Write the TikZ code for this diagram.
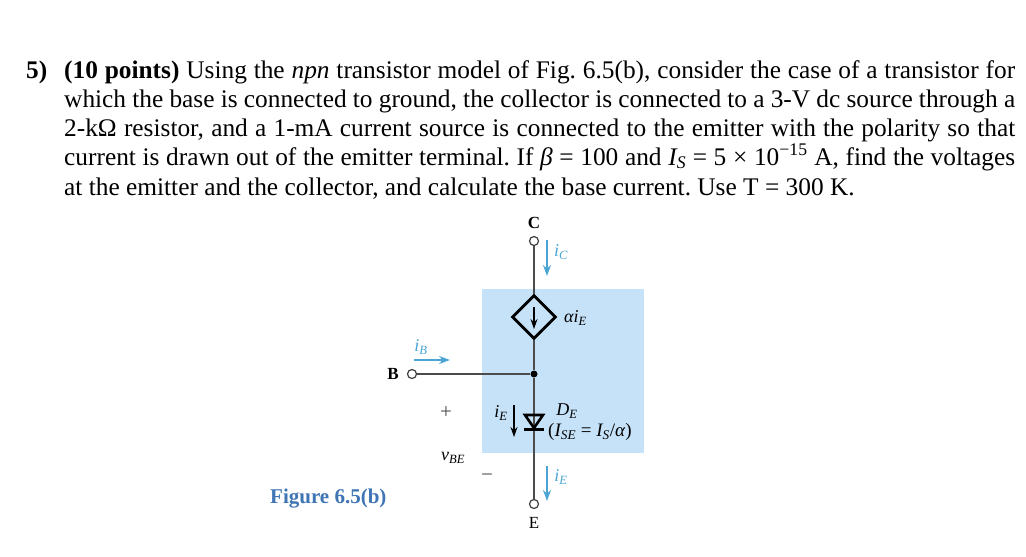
\documentclass[tikz,border=0pt]{standalone}
\usepackage{fontspec}
\setmainfont{Liberation Serif}
\usetikzlibrary{shapes.geometric,arrows.meta}
\definecolor{modelblue}{HTML}{C6E2F8}
\definecolor{currblue}{HTML}{4AA5D5}
\definecolor{figblue}{HTML}{3F74B5}
\newcommand{\lsub}[1]{\textsubscript{#1}}
\newcommand{\qfont}{\fontsize{25.35}{29}\selectfont\frenchspacing}
\newcommand{\qline}[1]{\qfont\makebox[951pt][s]{#1}}
\tikzset{
  qtext/.style={anchor=base west,inner sep=0pt},
  term/.style={circle,draw=black!75,fill=white,line width=1.2pt,inner sep=0pt,minimum size=9pt},
  junct/.style={circle,fill=black,inner sep=0pt,minimum size=7pt},
  wire/.style={draw=black!70,line width=1.7pt},
  curr/.style={-{Stealth[length=11pt,width=8pt]},line width=1.5pt,currblue},
  darr/.style={-{Stealth[length=10pt,width=7pt]},line width=1.6pt,black},
  small/.style={inner sep=0pt,font=\fontsize{17}{19}\selectfont},
  sign/.style={inner sep=0pt,text=black!70,font=\fontsize{21}{23}\selectfont},
  ital/.style={inner sep=0pt,font=\fontsize{18}{20}\selectfont\itshape},
  ilab/.style={ital,text=currblue}
}
\begin{document}
\begin{tikzpicture}[x=1pt,y=-1pt]
  \useasboundingbox (0,0) rectangle (1026,557);
  % question text
  \node[qtext] (num) at (26,78) {\qfont\bfseries 5)};
  \node[qtext] (l1) at (64,78) {\qline{\textbf{(10 points)} Using the \textit{npn} transistor model of Fig. 6.5(b), consider the case of a transistor for}};
  \node[qtext] (l2) at (64,107) {\qline{which the base is connected to ground, the collector is connected to a 3-V dc source through a}};
  \node[qtext] (l3) at (64,136) {\qline{2-kΩ resistor, and a 1-mA current source is connected to the emitter with the polarity so that}};
  \node[qtext] (l4) at (64,165) {\qline{current is drawn out of the emitter terminal. If \textit{β} = 100 and \textit{I\lsub{S}} = 5 × 10\textsuperscript{−15} A, find the voltages}};
  \node[qtext] (l5) at (64,195) {\qfont at the emitter and the collector, and calculate the base current. Use T = 300 K.};
  % shaded box
  \fill[modelblue] (482,289) rectangle (644,453);
  % circuit
  \node[term] (nc) at (534,241) {};
  \node[term] (nb) at (412,374) {};
  \node[term] (ne) at (534,504) {};
  \node[junct] (nj) at (534,374) {};
  \node[diamond,draw=black,line width=2.8pt,inner sep=0pt,minimum size=44pt] (src) at (534,317) {};
  \coordinate (dbar) at (534,428);
  \draw[wire] (nc) -- (src);
  \draw[wire] (src) -- (nj);
  \draw[wire] (nb) -- (nj);
  \draw[wire] (nj) -- (ne);
  \draw[darr,line width=1.2pt] (534,307) -- (534,329);
  % diode
  \draw[black,line width=2.6pt,line join=miter] (525,415) -- (543,415) -- (dbar) -- cycle;
  \draw[black,line width=3pt] (524,429) -- (544,429);
  % currents
  \draw[curr] (547,240) -- (547,276);
  \draw[curr] (414,360) -- (450,360);
  \draw[curr] (547,466) -- (547,501);
  \draw[darr] (514,405) -- (514,437);
  % labels
  \node[small,font=\fontsize{17}{19}\selectfont\bfseries] (lc) at (534,223) {C};
  \node[small,font=\fontsize{17}{19}\selectfont\bfseries] (lb) at (393,374) {B};
  \node[small] (le) at (534,523) {E};
  \node[ilab] (lic) at (561,252) {i\lsub{C}};
  \node[ilab] (lib) at (421,347) {i\lsub{B}};
  \node[ilab] (lie) at (561,477) {i\lsub{E}};
  \node[ital,anchor=west] (lsrc) at (564,318) {αi\lsub{E}};
  \node[ital] (lde) at (501,413) {i\lsub{E}};
  \node[ital] (ldn) at (567,411) {D\lsub{E}};
  \node[small,font=\fontsize{19}{21}\selectfont] (lis) at (590,432) {(\textit{I\lsub{SE}} = \textit{I\lsub{S}}/\textit{α})};
  \node[sign] (lp) at (446,413) {+};
  \node[sign] (lm) at (487,478) {−};
  \node[ital] (lv) at (453,458) {v\lsub{BE}};
  \node[anchor=base west,inner sep=0pt,text=figblue,font=\fontsize{21}{24}\selectfont\bfseries] (fig) at (270,503) {Figure 6.5(b)};
\end{tikzpicture}
\end{document}
